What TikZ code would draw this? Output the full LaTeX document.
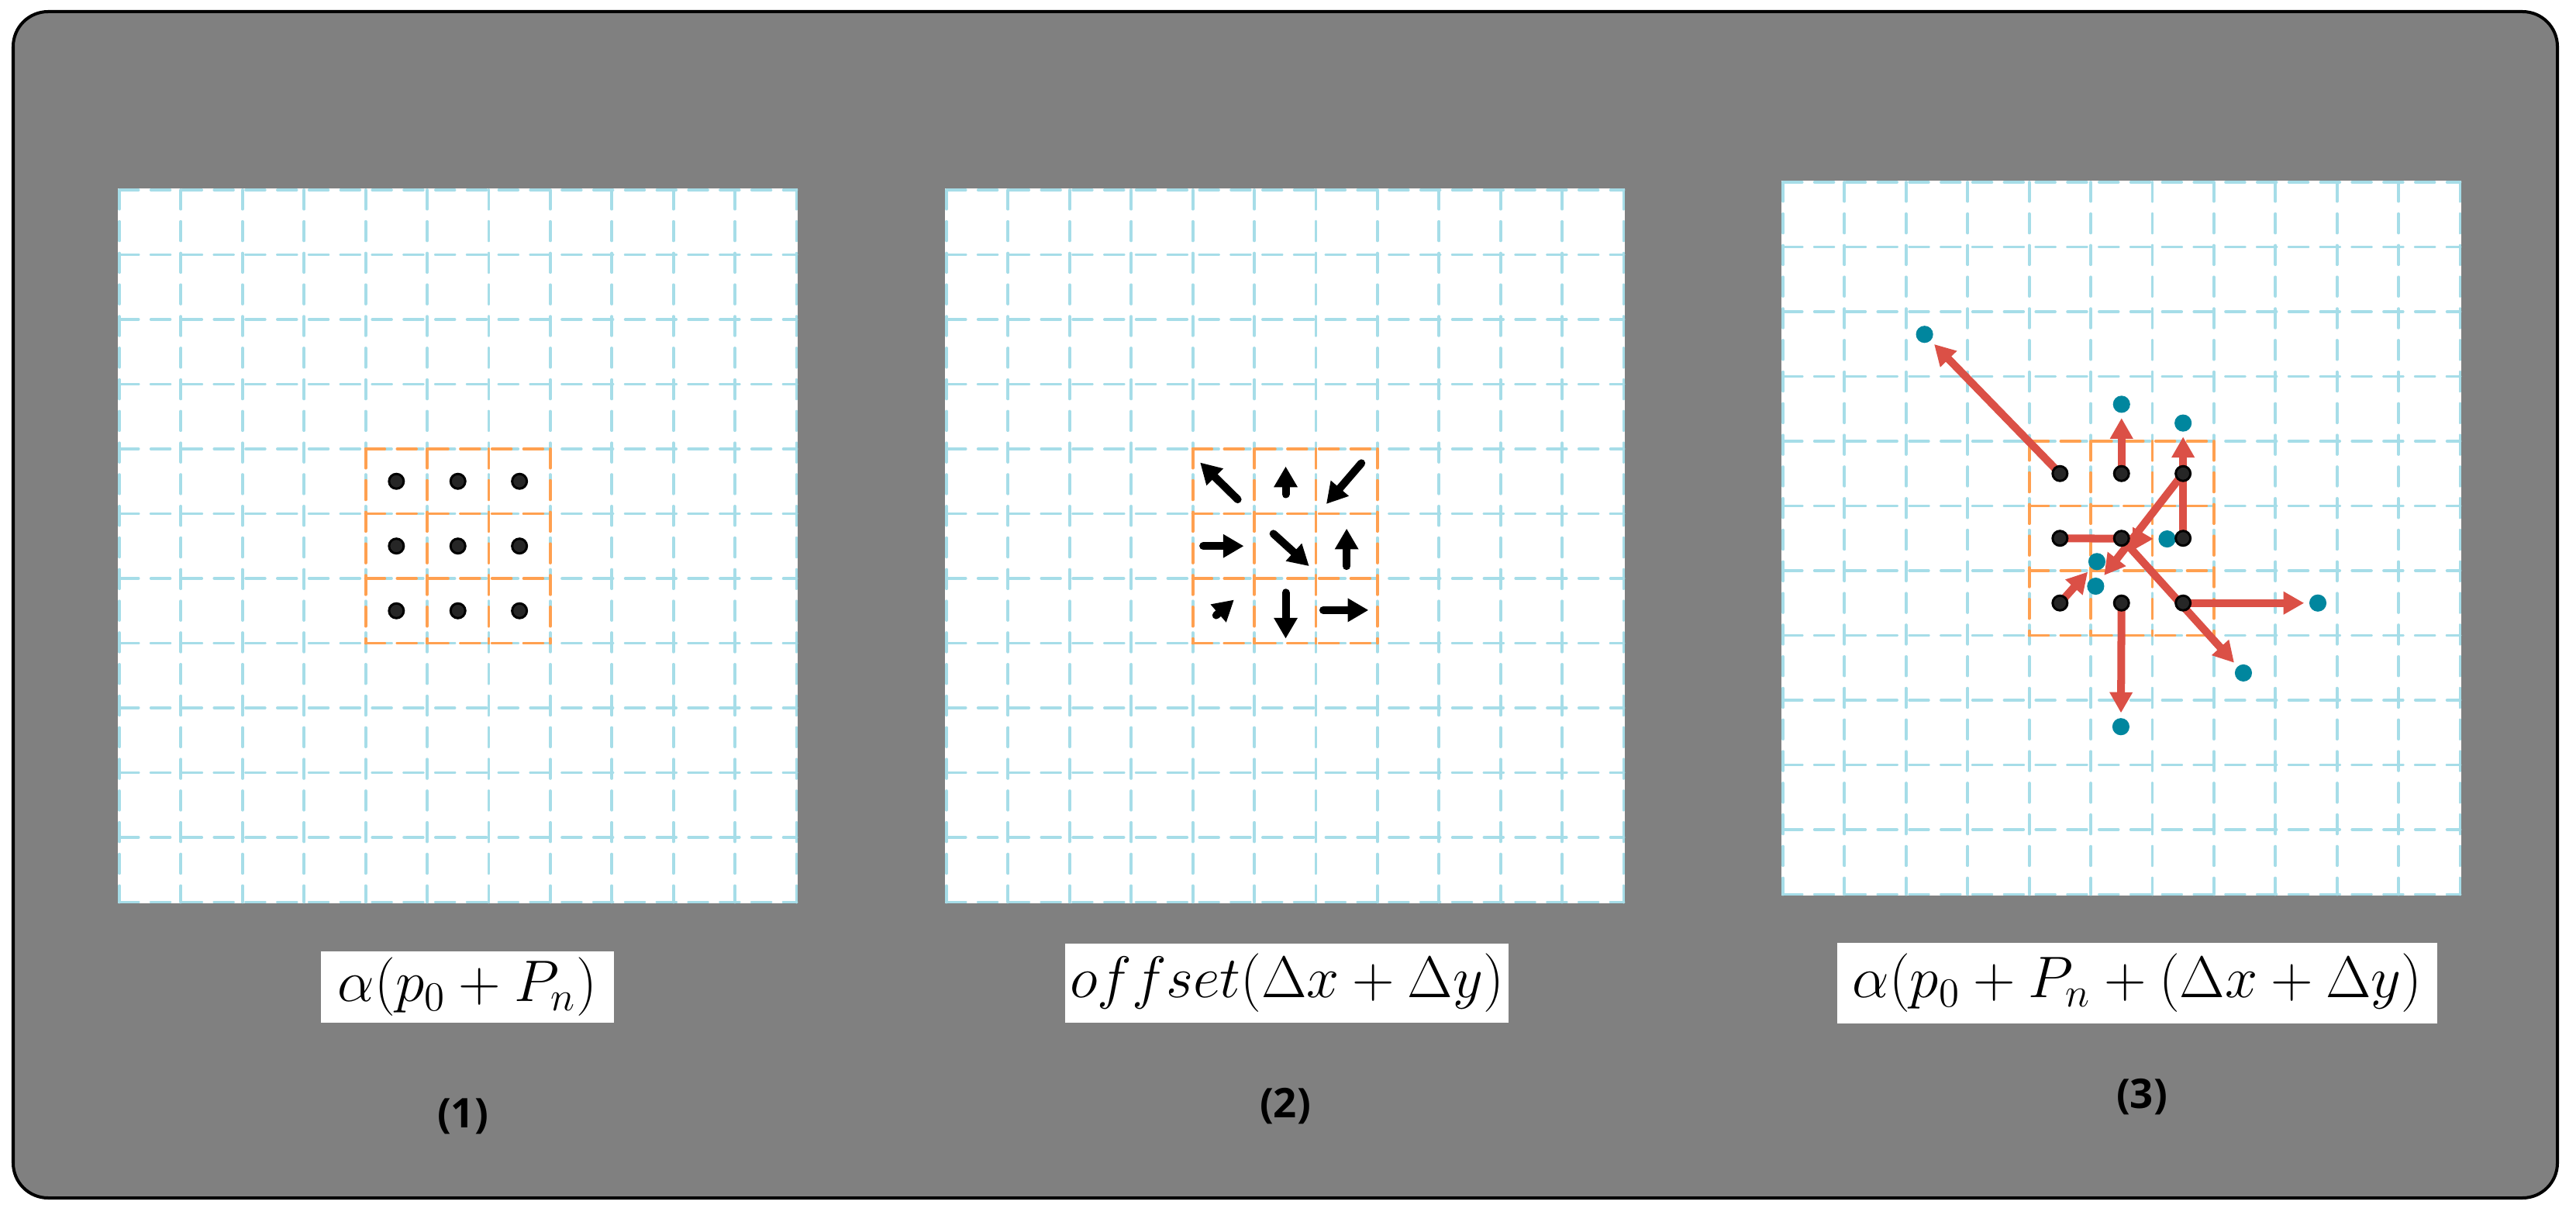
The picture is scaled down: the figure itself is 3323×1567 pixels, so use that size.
\documentclass[tikz,border=0pt]{standalone}
\usepackage{fix-cm}
\usepackage{fontspec}
\newfontfamily\numfont{Open Sans}
\usetikzlibrary{arrows.meta}

\definecolor{panelgray}{RGB}{128,128,128}
\definecolor{gridblue}{RGB}{166,221,232}
\definecolor{boxorange}{RGB}{255,160,80}
\definecolor{arrowred}{RGB}{219,80,70}
\definecolor{dotteal}{RGB}{0,134,158}
\definecolor{dotgray}{RGB}{38,38,38}

\tikzset{
  griddash/.style={draw=gridblue, line width=1.1pt, dash pattern=on 7pt off 4.6pt, line cap=round},
  orangedash/.style={draw=boxorange, line width=1.1pt, dash pattern=on 7pt off 4.6pt, line cap=round},
  blackdot/.style={circle, draw=black, line width=0.85pt, fill=dotgray, minimum size=5.4pt, inner sep=0pt},
  tealdot/.style={circle, fill=dotteal, minimum size=6.3pt, inner sep=0pt},
  offarrow/.style={draw=black, line width=2.85pt, line cap=round, -{Triangle[length=7.6pt,width=8.2pt]}},
  defarrow/.style={draw=arrowred, line width=2.85pt, -{Triangle[length=7.6pt,width=8pt]}, shorten >=1.7pt},
  formula/.style={fill=white, inner sep=0pt, font=\fontsize{21.5}{24}\selectfont},
  numlabel/.style={font=\numfont\bfseries\fontsize{15}{18}\selectfont}
}

\begin{document}
\begin{tikzpicture}[x=0.01cm, y=-0.01cm]
\useasboundingbox (0,0) rectangle (3323,1567);

\draw[line width=1.14pt, fill=panelgray, rounded corners=12.8pt] (17,15) rectangle (3299,1545);

% (1) sampling grid
\fill[white] (152,243) rectangle ++(877,922);
\begin{scope}[shift={(154,245)}, x=0.7936cm, y=-0.8345cm]
\foreach \i in {0,...,11} {
  \draw[griddash] (\i,0) -- (\i,11);
  \draw[griddash] (0,\i) -- (11,\i);
}
\foreach \i in {4,...,7} {
  \draw[orangedash] (\i,4) -- (\i,7);
  \draw[orangedash] (4,\i) -- (7,\i);
}
\foreach \c in {0,1,2}
  \foreach \r in {0,1,2}
    \node[blackdot] (a\c\r) at (4.5+\c,4.5+\r) {};
\end{scope}

% (2) offsets
\fill[white] (1219,243) rectangle ++(877,922);
\begin{scope}[shift={(1221,245)}, x=0.7936cm, y=-0.8345cm]
\foreach \i in {0,...,11} {
  \draw[griddash] (\i,0) -- (\i,11);
  \draw[griddash] (0,\i) -- (11,\i);
}
\foreach \i in {4,...,7} {
  \draw[orangedash] (\i,4) -- (\i,7);
  \draw[orangedash] (4,\i) -- (7,\i);
}
\foreach \xa/\ya/\xb/\yb in {4.73/4.78/4.12/4.21, 5.51/4.70/5.51/4.27, 6.74/4.22/6.17/4.85,
    4.17/5.50/4.83/5.50, 5.31/5.31/5.89/5.81, 6.50/5.81/6.50/5.23,
    4.38/6.57/4.67/6.33, 5.51/6.22/5.51/6.93, 6.12/6.49/6.855/6.49}
  \draw[offarrow] (\xa,\ya) -- (\xb,\yb);
\end{scope}

% (3) deformed sampling
\fill[white] (2298,233) rectangle ++(877,922);
\begin{scope}[shift={(2300,235)}, x=0.7936cm, y=-0.8345cm]
\foreach \i in {0,...,11} {
  \draw[griddash] (\i,0) -- (\i,11);
  \draw[griddash] (0,\i) -- (11,\i);
}
\foreach \i in {4,...,7} {
  \draw[orangedash] (\i,4) -- (\i,7);
  \draw[orangedash] (4,\i) -- (7,\i);
}
\foreach \c in {0,1,2}
  \foreach \r in {0,1,2}
    \coordinate (s\c\r) at (4.5+\c,4.5+\r);
\foreach \n/\u/\v in {00/2.30/2.35, 10/5.50/3.43, 20/5.08/6.24, 01/6.24/5.51, 11/7.48/7.58,
    21/6.50/3.72, 02/5.10/5.86, 12/5.49/8.41, 22/8.69/6.50}
  \node[tealdot] (t\n) at (\u,\v) {};
\foreach \n in {00,10,20,01,11,21,02,12,22}
  \draw[defarrow] (s\n) -- (t\n);
\foreach \n in {00,10,20,01,11,21,02,12,22}
  \node[blackdot] (d\n) at (s\n) {};
\end{scope}

\node[formula, minimum width=107.3pt, minimum height=26.2pt] (f1) at (603,1273) {$\alpha(p_0+P_n)$};
\node[formula, minimum width=162.4pt, minimum height=29pt] (f2) at (1660,1268) {$offset(\Delta x+\Delta y)$};
\node[formula, minimum width=219.9pt, minimum height=29.3pt] (f3) at (2757,1268) {$\alpha(p_0+P_n+(\Delta x+\Delta y)$};

\node[numlabel] (n1) at (597,1440) {(1)};
\node[numlabel] (n2) at (1658,1427) {(2)};
\node[numlabel] (n3) at (2763,1415) {(3)};

\end{tikzpicture}
\end{document}
